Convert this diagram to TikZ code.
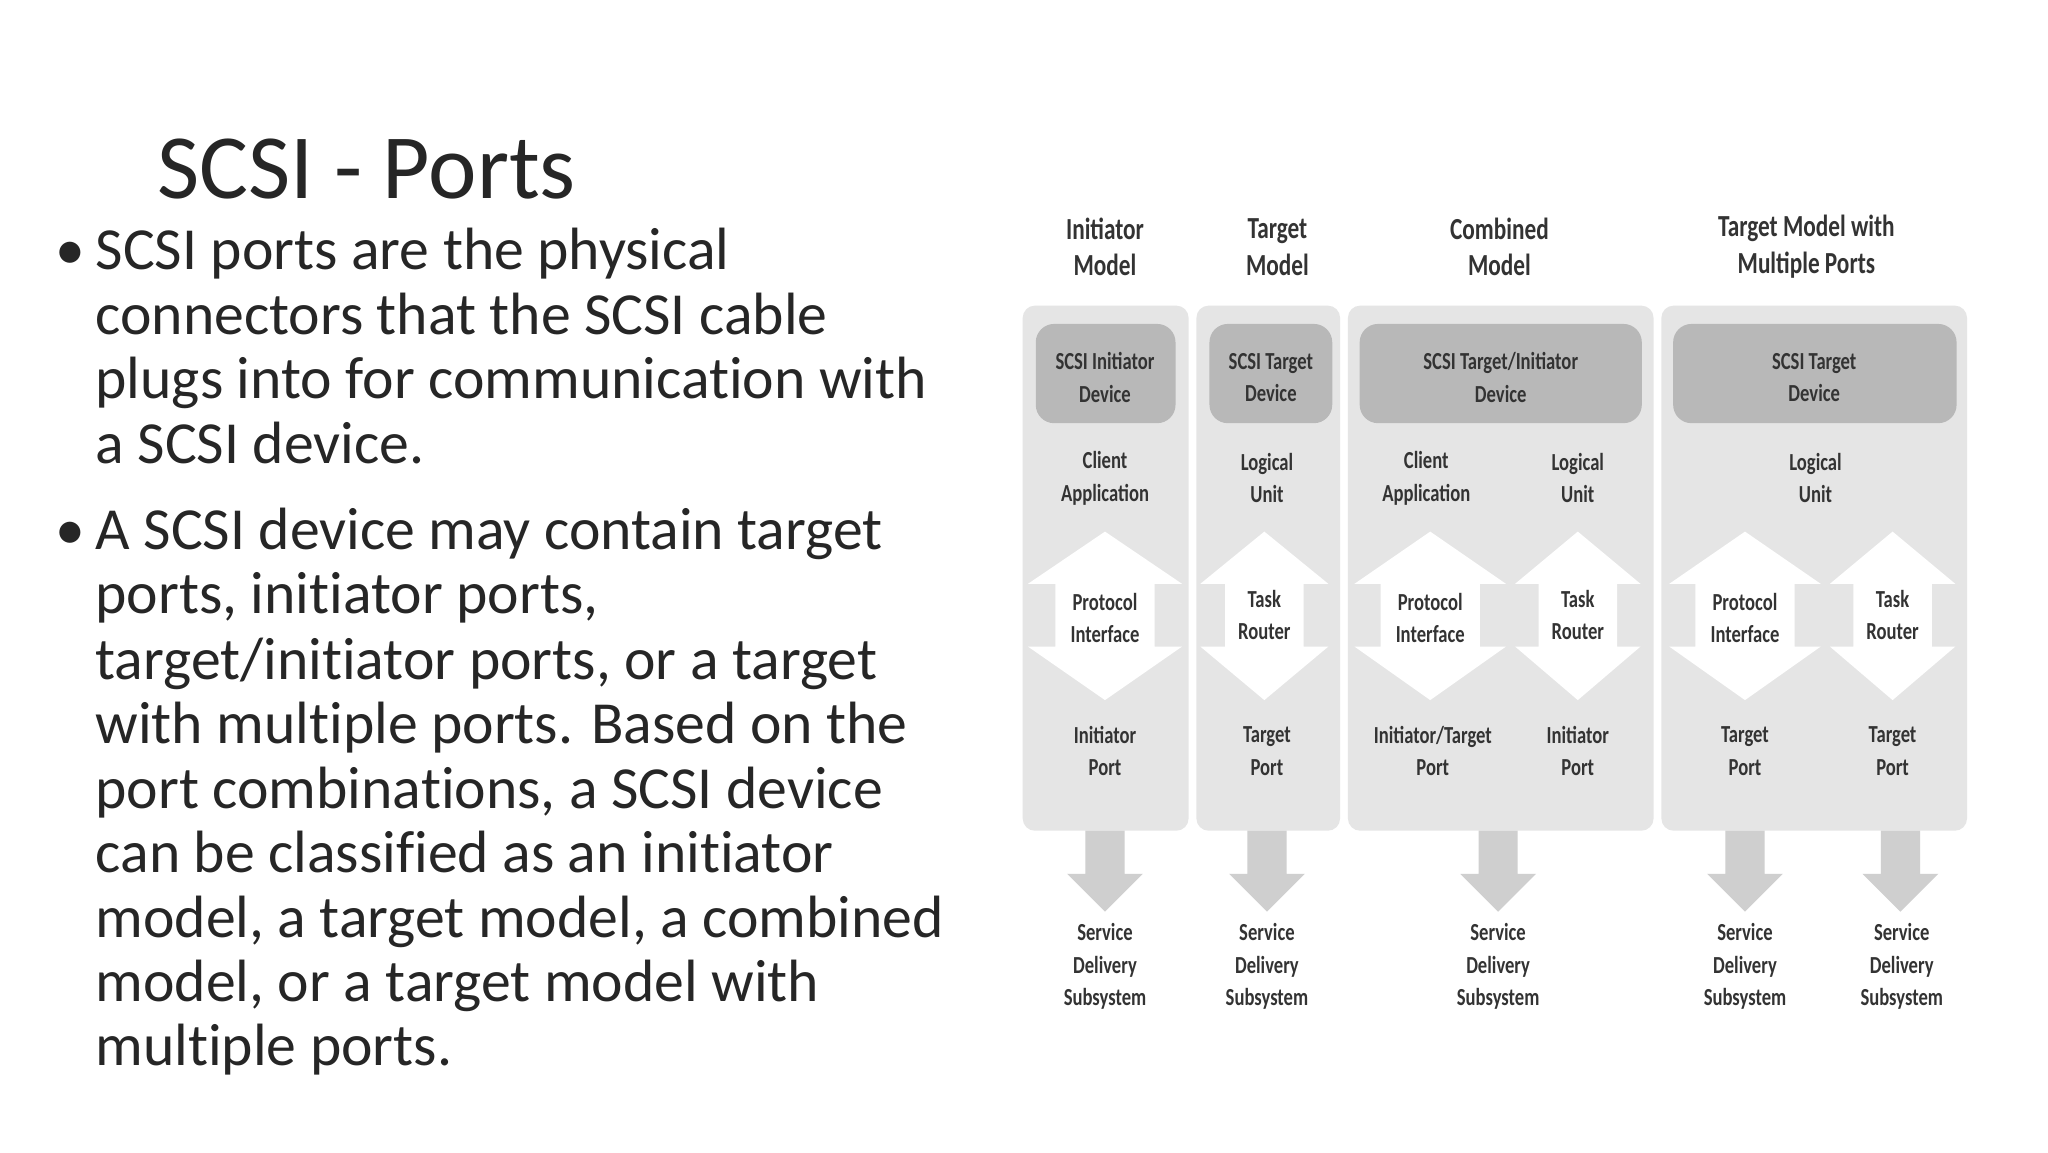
\documentclass[tikz,border=0pt]{standalone}
\usepackage{fontspec}
\setmainfont[Ligatures=NoCommon]{Carlito}
\newfontfamily\diagf[FakeStretch=0.76]{Carlito}
\begin{document}
\begin{tikzpicture}[x=0.03cm,y=-0.03cm,
  body/.style={anchor=base west,inner sep=0,font=\fontsize{39}{44}\selectfont,text=black!85},
  lab/.style={align=center,inner sep=0,font=\diagf\bfseries\fontsize{16}{21.3}\selectfont,text=black!80},
  hdr/.style={align=center,inner sep=0,font=\diagf\bfseries\fontsize{20}{24}\selectfont,text=black!80},
  panel/.style={fill=black!10,rounded corners=8},
  devbox/.style={fill=black!28,rounded corners=12},
  darr/.style={fill=black!19}]
\useasboundingbox (0,0) rectangle (1568,882);
\fill[white] (0,0) rectangle (1568,882);
\node[anchor=base west,inner sep=0,font=\fontsize{60}{66}\selectfont,text=black!85] (title) at (120,152) {SCSI - Ports};
% bullets
\foreach \y/\t [count=\i] in {206/SCSI ports are the physical,256/connectors that the SCSI cable,305/plugs into for communication with,355/a SCSI device.,421/A SCSI device may contain target,470/{ports, initiator ports,},520/{target/initiator ports, or a target},569/with multiple ports. Based on the,619/{port combinations, a SCSI device},668/can be classified as an initiator,718/{model, a target model, a combined},767/{model, or a target model with},816/multiple ports.}
  \node[body] (l\i) at (73,\y) {\t};
\node[body] (b1) at (42,206) {•};
\node[body] (b2) at (42,421) {•};
% headers
\node[hdr] (h1) at (846,189) {Initiator\\Model};
\node[hdr] (h2) at (978,189) {Target\\Model};
\node[hdr] (h3) at (1148,189) {Combined\\Model};
\node[hdr] (h4) at (1383,189) {Target Model with\\Multiple Ports};
% panels
\fill[panel] (783,234) rectangle (910,636);
\fill[panel] (916,234) rectangle (1026,636);
\fill[panel] (1032,234) rectangle (1266,636);
\fill[panel] (1272,234) rectangle (1506,636);
\fill[devbox] (793,248) rectangle (900,324);
\fill[devbox] (926,248) rectangle (1020,324);
\fill[devbox] (1041,248) rectangle (1257,324);
\fill[devbox] (1281,248) rectangle (1498,324);
\node[lab] (d1) at (846,289) {SCSI Initiator\\Device};
\node[lab] (d2) at (973,289) {SCSI Target\\Device};
\node[lab] (d3) at (1149,289) {SCSI Target/Initiator\\Device};
\node[lab] (d4) at (1389,289) {SCSI Target\\Device};
% double arrows
\foreach \cx/\hw/\sw in {846/59/38,968/49/30,1095/58/38,1208/48/30,1336/58/38,1449/48/30}{
  \fill[white] (\cx,407) -- (\cx+\hw,447) -- (\cx+\sw,447) -- (\cx+\sw,495) -- (\cx+\hw,495)
    -- (\cx,536) -- (\cx-\hw,495) -- (\cx-\sw,495) -- (\cx-\sw,447) -- (\cx-\hw,447) -- cycle;}
% down arrows
\foreach \cx in {846,970,1147,1336,1455}{
  \fill[darr] (\cx-15,636) -- (\cx+15,636) -- (\cx+15,669) -- (\cx+29,669) -- (\cx,698)
    -- (\cx-29,669) -- (\cx-15,669) -- cycle;}
% labels
\node[lab] (c1) at (846,366) {Client\\Application};
\node[lab] (c2) at (970,366) {Logical\\Unit};
\node[lab] (c3) at (1092,366) {Client\\Application};
\node[lab] (c4) at (1208,366) {Logical\\Unit};
\node[lab] (c5) at (1390,366) {Logical\\Unit};
\node[lab] (p1) at (846,473) {Protocol\\Interface};
\node[lab] (p2) at (968,471) {Task\\Router};
\node[lab] (p3) at (1095,473) {Protocol\\Interface};
\node[lab] (p4) at (1208,471) {Task\\Router};
\node[lab] (p5) at (1336,473) {Protocol\\Interface};
\node[lab] (p6) at (1449,471) {Task\\Router};
\node[lab] (t1) at (846,575) {Initiator\\Port};
\node[lab] (t2) at (970,575) {Target\\Port};
\node[lab] (t3) at (1097,575) {Initiator/Target\\Port};
\node[lab] (t4) at (1208,575) {Initiator\\Port};
\node[lab] (t5) at (1336,575) {Target\\Port};
\node[lab] (t6) at (1449,575) {Target\\Port};
\foreach \cx [count=\i] in {846,970,1147,1336,1456}
  \node[lab] (s\i) at (\cx,740) {Service\\Delivery\\Subsystem};
\end{tikzpicture}
\end{document}
